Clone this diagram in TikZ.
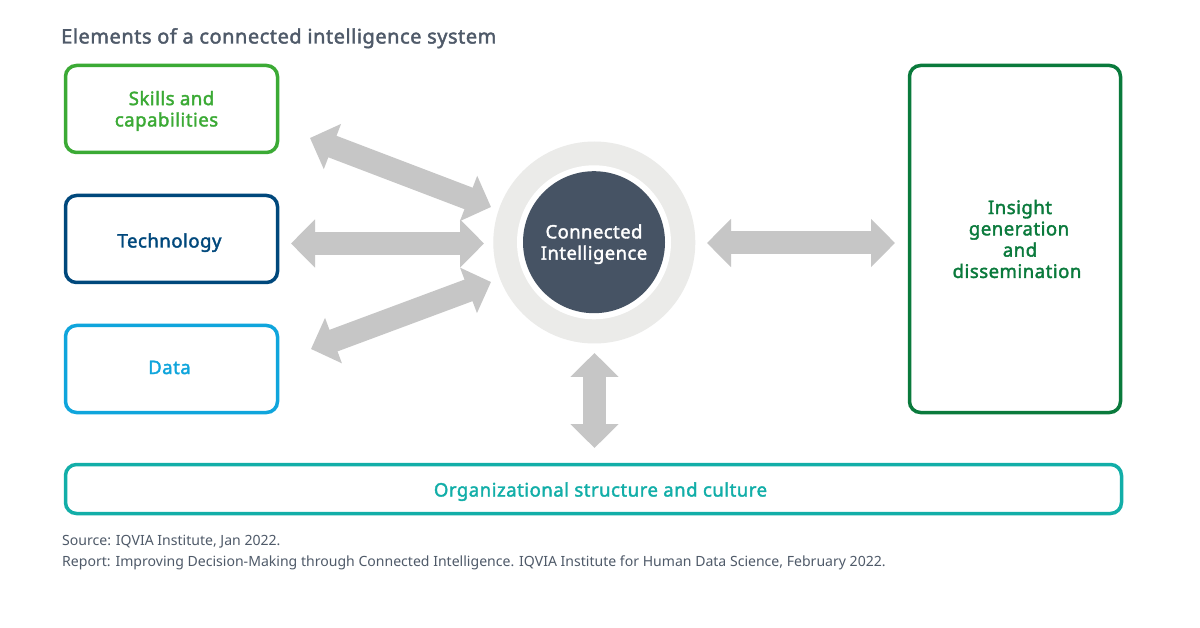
\documentclass[tikz,border=0pt]{standalone}
\usepackage{fontspec}
\setmainfont{Noto Sans}
\newfontfamily\semib{Noto Sans}[FakeBold=2,LetterSpace=2.6]
\usetikzlibrary{arrows.meta}
\definecolor{cskill}{HTML}{3BAA35}
\definecolor{ctech}{HTML}{00487C}
\definecolor{cdata}{HTML}{0FA5DC}
\definecolor{cins}{HTML}{0A7A3C}
\definecolor{corg}{HTML}{12AEA8}
\definecolor{cdark}{HTML}{465364}
\definecolor{cgray}{HTML}{C6C6C6}
\definecolor{cring}{HTML}{EBEBE9}
\definecolor{ctext}{HTML}{4F5A69}
\tikzset{
  box/.style={draw,line width=3.5pt,rounded corners=11pt,align=center,inner sep=0pt,font=\fontsize{18.6}{21.3}\selectfont\semib},
  link/.style={draw=cgray,line width=23pt,{Triangle[length=24pt,width=47pt,fill=cgray]}-{Triangle[length=24pt,width=47pt,fill=cgray]}},
  note/.style={anchor=base west,inner sep=0pt,text=ctext,font=\fontsize{14.06}{16}\selectfont},
}
\begin{document}
\begin{tikzpicture}[x=1pt,y=-1pt]
\useasboundingbox (0,0) rectangle (1200,628);
\fill[white] (0,0) rectangle (1200,628);
\node[anchor=base west,inner sep=0pt,text=ctext,font=\fontsize{20}{24}\selectfont\semib] (title) at (61,43.5) {Elements of a connected intelligence system};
\node[box,draw=cskill,text=cskill,minimum width=212pt,minimum height=87pt] (skills) at (171.5,109) {\rule{0pt}{18pt}Skills and\\\hspace*{-10pt}capabilities};
\node[box,draw=ctech,text=ctech,minimum width=212pt,minimum height=87pt,text height=21pt,text depth=4pt] (tech) at (171.5,239) {\hspace*{-4pt}Technology};
\node[box,draw=cdata,text=cdata,minimum width=212pt,minimum height=87pt,text height=13pt,text depth=3pt] (data) at (171.5,369) {\hspace*{-4pt}Data};
\node[box,draw=cins,text=cins,minimum width=211pt,minimum height=347pt] (insight) at (1015,239) {\hspace*{10pt}Insight\\\hspace*{8pt}generation\\\hspace*{10pt}and\\\hspace*{4pt}dissemination};
\node[box,draw=corg,text=corg,minimum width=1056pt,minimum height=49pt,text height=19pt,text depth=4pt] (org) at (593.5,489) {\hspace*{14pt}Organizational structure and culture};
\node[circle,fill=cring,minimum size=202pt,inner sep=0pt] (ring) at (594.3,242.5) {};
\node[circle,fill=white,minimum size=154pt,inner sep=0pt] (gap) at (594,242.3) {};
\node[circle,fill=cdark,text=white,minimum size=142pt,inner sep=0pt,align=center,font=\fontsize{18.4}{21.3}\selectfont\semib] (ci) at (594,242.2) {\rule{0pt}{18pt}Connected\\Intelligence};
\coordinate (a1) at (310,138); \coordinate (b1) at (491,207);
\coordinate (a2) at (291,243.5); \coordinate (b2) at (484,243.5);
\coordinate (a3) at (311,349); \coordinate (b3) at (491,282);
\coordinate (a4) at (707,243); \coordinate (b4) at (895,243);
\coordinate (a5) at (594.5,353); \coordinate (b5) at (594.5,448);
\draw[link] (a1) -- (b1);
\draw[link] (a2) -- (b2);
\draw[link] (a3) -- (b3);
\draw[link] (a4) -- (b4);
\draw[link] (a5) -- (b5);
\node[note] (src) at (62,545.5) {Source: IQVIA Institute, Jan 2022.};
\node[note] (rep) at (62,566) {Report: Improving Decision-Making through Connected Intelligence. IQVIA Institute for Human Data Science, February 2022.};
\end{tikzpicture}
\end{document}
